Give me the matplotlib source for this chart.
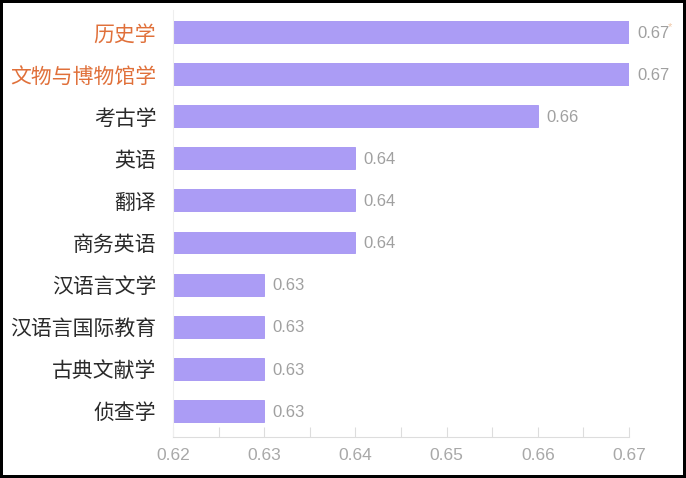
import matplotlib.pyplot as plt
import numpy as np
from matplotlib.ticker import MultipleLocator

plt.rcParams['font.family'] = ['Noto Sans CJK SC', 'DejaVu Sans']

majors = ["历史学", "文物与博物馆学", "考古学", "英语", "翻译", "商务英语",
          "汉语言文学", "汉语言国际教育", "古典文献学", "侦查学"]
values = [0.67, 0.67, 0.66, 0.64, 0.64, 0.64, 0.63, 0.63, 0.63, 0.63]
highlight = ["历史学", "文物与博物馆学"]

num_font = ["Liberation Sans", "DejaVu Sans"]

fig = plt.figure(figsize=(6.86, 4.78), dpi=100)
fig.patch.set_edgecolor("black")
fig.patch.set_linewidth(3)
ax = fig.add_axes([173 / 686, 1 - 437 / 478, 456 / 686, 427 / 478])

y = np.arange(len(majors))
base = 0.62
ax.barh(y, [v - base for v in values], left=base, height=0.52,
        color="#ab9cf5", edgecolor="#a393f2", linewidth=0.6)

for yi, v in zip(y, values):
    ax.text(v + 0.0009, yi + 0.03, f"{v:.2f}", va="center", ha="left",
            fontsize=12, color="#a0a0a0", family=num_font)
ax.text(values[0] + 0.0043, 0 - 0.12, "*", va="center", ha="left",
        fontsize=8, color="#f0c8a8", family=num_font)

ax.set_xlim(0.62, 0.67)
ax.set_ylim(9.62, -0.52)
ax.set_yticks(y)
ax.set_yticklabels(majors, fontsize=15, fontweight="medium")
for lbl in ax.get_yticklabels():
    lbl.set_color("#e0703a" if lbl.get_text() in highlight else "#2a2a2a")
ax.tick_params(axis="y", length=0, pad=12)

ax.xaxis.set_major_locator(MultipleLocator(0.01))
ax.xaxis.set_minor_locator(MultipleLocator(0.005))
ax.set_xticklabels([f"{t:.2f}" for t in ax.get_xticks()], family=num_font)
ax.tick_params(axis="x", which="both", direction="in", length=7, width=0.8,
               color="#dddddd", labelcolor="#a8a8a8", labelsize=12.5, pad=8)

for s in ["top", "right"]:
    ax.spines[s].set_visible(False)
ax.spines["left"].set_color("#eeeeee")
ax.spines["bottom"].set_color("#dddddd")
ax.spines["left"].set_linewidth(0.8)
ax.spines["bottom"].set_linewidth(0.8)

fig.savefig("out.png", dpi=100, edgecolor=fig.get_edgecolor())
